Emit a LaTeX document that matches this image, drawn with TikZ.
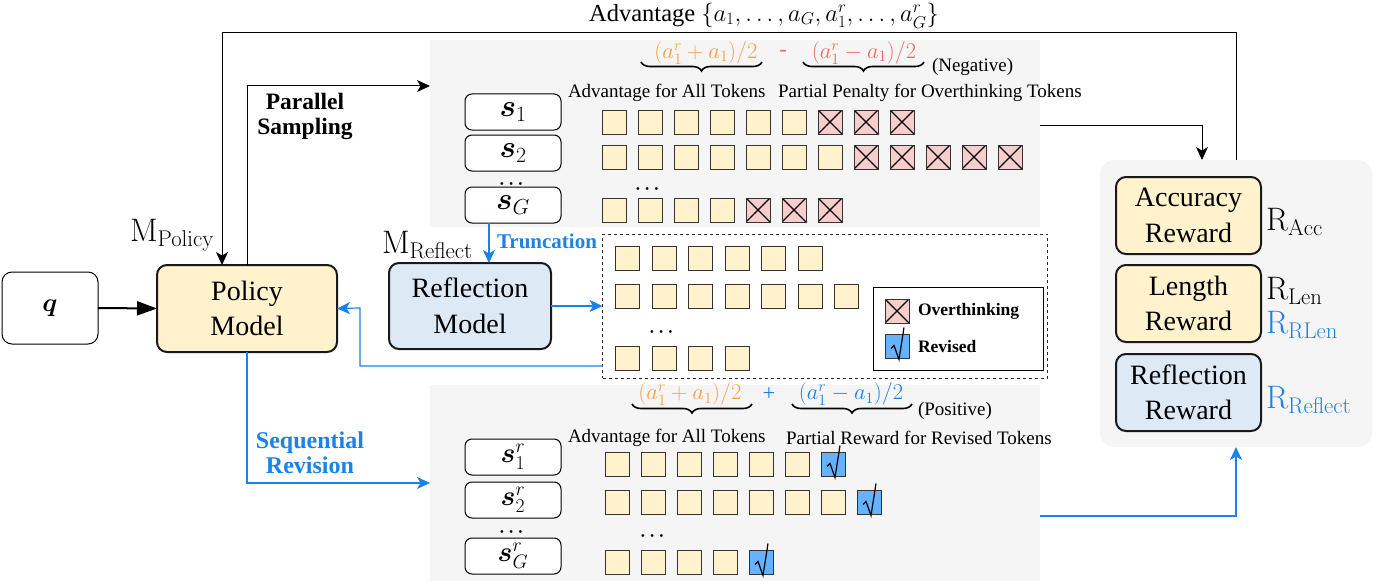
\RequirePackage{fix-cm}
\documentclass[tikz,border=0pt]{standalone}
\usepackage{amsmath,bm}
\usepackage[no-math]{fontspec}
\setmainfont{Liberation Serif}
\usetikzlibrary{arrows.meta,decorations.pathreplacing,calc}
\definecolor{cream}{HTML}{FFF2CC}
\definecolor{pinkc}{HTML}{F8CECC}
\definecolor{lblue}{HTML}{DEE9F6}
\definecolor{revb}{HTML}{66B2FF}
\definecolor{panelg}{HTML}{F5F5F5}
\definecolor{blu}{HTML}{1A82E8}
\definecolor{orng}{HTML}{F5A04A}
\definecolor{redc}{HTML}{EA6B66}
\tikzset{
  x=1pt,y=-1pt,
  panel/.style={fill=panelg,draw=none,inner sep=0,outer sep=0},
  model/.style={draw=black!90,line width=2pt,rounded corners=10pt,align=center,inner sep=0,outer sep=0,font=\fontsize{28}{35.5}\selectfont},
  sbox/.style={draw=black,fill=white,line width=1pt,rounded corners=7pt,inner sep=0,outer sep=0,minimum width=96pt,font=\fontsize{31}{34}\selectfont},
  tok/.style={draw=black!80,line width=.7pt,fill=cream,inner sep=0,outer sep=0,minimum width=24pt,minimum height=24pt},
  over/.style={tok,fill=pinkc,path picture={\draw[line width=1.3pt,black] (path picture bounding box.north west)--(path picture bounding box.south east) (path picture bounding box.north east)--(path picture bounding box.south west);}},
  revd/.style={tok,fill=revb},
  chk/.style={line width=1.2pt,black,line join=miter},
  conn/.style={line width=1pt,black,-{Stealth[length=13pt,width=12pt,inset=3.5pt]}},
  bconn/.style={line width=1.2pt,blu,-{Stealth[length=13pt,width=12pt,inset=3.5pt]}},
  lab/.style={inner sep=0,outer sep=0,font=\fontsize{19}{22}\selectfont},
  frm/.style={inner sep=0,outer sep=0,font=\fontsize{22.5}{25}\selectfont},
  big/.style={inner sep=0,outer sep=0,anchor=west,font=\fontsize{32.5}{34}\selectfont},
  blab/.style={inner sep=0,outer sep=0,align=center,font=\fontsize{23.5}{25}\selectfont\bfseries},
  brc/.style={line width=1.6pt,black,decorate,decoration={brace,mirror,amplitude=9pt}},
  dotsn/.style={inner sep=0,outer sep=0,font=\fontsize{18}{22}\selectfont},
}
\newcommand\rvtok[3]{\node[revd] (#1) at (#2,#3) {};
  \draw[chk] ([shift={(-6,2)}]#1.center)--([shift={(-3,-1)}]#1.center)--([shift={(2,13)}]#1.center)--([shift={(7,-19)}]#1.center);}
\begin{document}
\begin{tikzpicture}
\useasboundingbox (0,0) rectangle (1374,586);
% panels
\node[panel,minimum width=610pt,minimum height=187pt] (pa) at (735,133.5) {};
\node[panel,minimum width=610pt,minimum height=196pt] (pb) at (735,483) {};
\node[panel,rounded corners=14pt,minimum width=272pt,minimum height=287pt] (rw) at (1236,303.5) {};
% models
\node[draw=black,fill=white,line width=1pt,rounded corners=10pt,inner sep=0,outer sep=0,minimum width=96pt,minimum height=72pt,font=\fontsize{26}{30}\selectfont] (q) at (50,308) {$\bm{q}$};
\node[model,fill=cream,minimum width=180pt,minimum height=87pt] (pol) at (247,308.5) {Policy\\Model};
\node[model,fill=lblue,minimum width=162pt,minimum height=86pt] (ref) at (470,306) {Reflection\\Model};
\node[model,fill=cream,minimum width=145pt,minimum height=77pt] (acc) at (1188.5,215.5) {Accuracy\\Reward};
\node[model,fill=cream,minimum width=145pt,minimum height=77pt] (len) at (1188.5,303.5) {Length\\Reward};
\node[model,fill=lblue,minimum width=145pt,minimum height=77pt] (rrw) at (1188.5,392.5) {Reflection\\Reward};
% state boxes
\node[sbox,minimum height=36pt] (s1) at (513,112) {$\bm{s}_{1}$};
\node[sbox,minimum height=36pt] (s2) at (513,153) {$\bm{s}_{2}$};
\node[sbox,minimum height=36pt] (sg) at (513,205) {$\bm{s}_{G}$};
\node[sbox,minimum height=36pt,font=\fontsize{28}{30}\selectfont] (r1) at (513,457) {$\bm{s}_{1}^{r}$};
\node[sbox,minimum height=36pt,font=\fontsize{28}{30}\selectfont] (r2) at (513,500) {$\bm{s}_{2}^{r}$};
\node[sbox,minimum height=36pt,font=\fontsize{28}{30}\selectfont] (rg) at (513,556) {$\bm{s}_{G}^{r}$};
\node[dotsn] (d1) at (513,184) {$\bm{\cdots}$};
\node[dotsn] (d2) at (513,532) {$\bm{\cdots}$};
% upper tokens
\foreach \x in {614,650,686,722,758,794} \node[tok] (a\x) at (\x,122) {};
\foreach \x in {830,866,902} \node[over] (ax\x) at (\x,122) {};
\foreach \x in {614,650,686,722,758,794,830} \node[tok] (b\x) at (\x,157) {};
\foreach \x in {866,902,938,974,1010} \node[over] (bx\x) at (\x,157) {};
\node[dotsn] (d3) at (649,189) {$\bm{\cdots}$};
\foreach \x in {614,650,686,722} \node[tok] (c\x) at (\x,210) {};
\foreach \x in {758,794,830} \node[over] (cx\x) at (\x,210) {};
% lower tokens
\foreach \x in {617,653,689,725,761,797} \node[tok] (e\x) at (\x,464.5) {};
\rvtok{er}{833}{464.5}
\foreach \x in {617,653,689,725,761,797,833} \node[tok] (f\x) at (\x,502.5) {};
\rvtok{fr}{869}{502.5}
\node[dotsn] (d4) at (654,536) {$\bm{\cdots}$};
\foreach \x in {617,653,689,725} \node[tok] (g\x) at (\x,562.5) {};
\rvtok{gr}{761}{562.5}
% dashed box
\node[draw=black!85,dashed,fill=white,line width=1pt,inner sep=0,outer sep=0,minimum width=445pt,minimum height=144pt] (db) at (825,306) {};
\foreach \x in {627,664,700,737,773,810} \node[tok] (h\x) at (\x,258) {};
\foreach \x in {627,664,700,737,773,810,846} \node[tok] (i\x) at (\x,296) {};
\node[dotsn] (d5) at (663,332) {$\bm{\cdots}$};
\foreach \x in {627,664,700,737} \node[tok] (j\x) at (\x,358) {};
\node[draw=black,fill=white,line width=1pt,inner sep=0,outer sep=0,minimum width=170pt,minimum height=83pt] (lg) at (958,328.5) {};
\node[over] (lo) at (897,311) {};
\rvtok{lr}{897}{346.5}
\node[lab,anchor=west,font=\fontsize{17.5}{22}\selectfont\bfseries] (lo2) at (918,311) {Overthinking};
\node[lab,anchor=west,font=\fontsize{17.5}{22}\selectfont\bfseries] (lr2) at (918,347) {Revised};
% connectors
\draw[line width=2pt,black,-{Stealth[length=20pt,width=14pt,inset=0pt]}] (q.east)--(pol.west);
\draw[conn] (rw.north) |- (222,33) -- ([xshift=-25pt]pol.north);
\draw[conn] (pol.north) |- (pa.west |- 0,86);
\draw[conn] ([yshift=8.5pt]pa.east) -| ([xshift=-34pt]rw.north);
\draw[bconn] (pol.south) |- (pb.west |- 0,483);
\draw[bconn] ([yshift=-33pt]pb.east) -| (rw.south);
\draw[bconn] ([xshift=-24pt]sg.south) -- ([xshift=19pt]ref.north);
\draw[bconn] (ref.east) -- (db.west);
\draw[bconn] ([yshift=-60pt]db.west) -| (360,308) -- (pol.east);
% labels
\node[lab,font=\fontsize{24.5}{26}\selectfont] (adv) at (764,15.5) {Advantage $\{a_1,\dots,a_G,a_1^r,\dots,a_G^r\}$};
\node[blab] (ps) at (305,116) {Parallel\\Sampling};
\node[blab,text=blu,font=\fontsize{24}{24.5}\selectfont\bfseries] (sr) at (310,453) {Sequential\\Revision};
\node[lab,font=\fontsize{21}{24}\selectfont\bfseries,text=blu,anchor=west] (tr) at (497,241) {Truncation};
\node[big] (mp) at (130,235) {$\mathrm{M}_{\mathrm{Policy}}$};
\node[big] (mr) at (382,245) {$\mathrm{M}_{\mathrm{Reflect}}$};
\node[big] (ra) at (1266,222) {$\mathrm{R}_{\mathrm{Acc}}$};
\node[big] (rl) at (1266,291) {$\mathrm{R}_{\mathrm{Len}}$};
\node[big,text=blu] (rr) at (1266,325) {$\mathrm{R}_{\mathrm{RLen}}$};
\node[big,text=blu] (rf) at (1266,400) {$\mathrm{R}_{\mathrm{Reflect}}$};
% upper formula
\node[frm,text=orng] (f1) at (706,53) {$(a_1^r+a_1)/2$};
\node[frm,text=redc] (f2) at (783,53) {-};
\node[frm,text=redc] (f3) at (864,53) {$(a_1^r-a_1)/2$};
\draw[brc] (641,62) -- (762,62);
\draw[brc] (803,62) -- (924,62);
\node[lab,anchor=west] (neg) at (932,67) {(Negative)};
\node[lab,anchor=west] (t1) at (568,93) {Advantage for All Tokens};
\node[lab,anchor=west] (t2) at (778,93) {Partial Penalty for Overthinking Tokens};
% lower formula
\node[frm,text=orng] (f4) at (690,394) {$(a_1^r+a_1)/2$};
\node[frm,text=blu] (f5) at (769,394) {+};
\node[frm,text=blu] (f6) at (851,394) {$(a_1^r-a_1)/2$};
\draw[brc] (632,404) -- (752,404);
\draw[brc] (792,404) -- (912,404);
\node[lab,anchor=west] (pos) at (918,411) {(Positive)};
\node[lab,anchor=west] (t3) at (568,438) {Advantage for All Tokens};
\node[lab,anchor=west] (t4) at (786,438) {Partial Reward for Revised Tokens};
\end{tikzpicture}
\end{document}
